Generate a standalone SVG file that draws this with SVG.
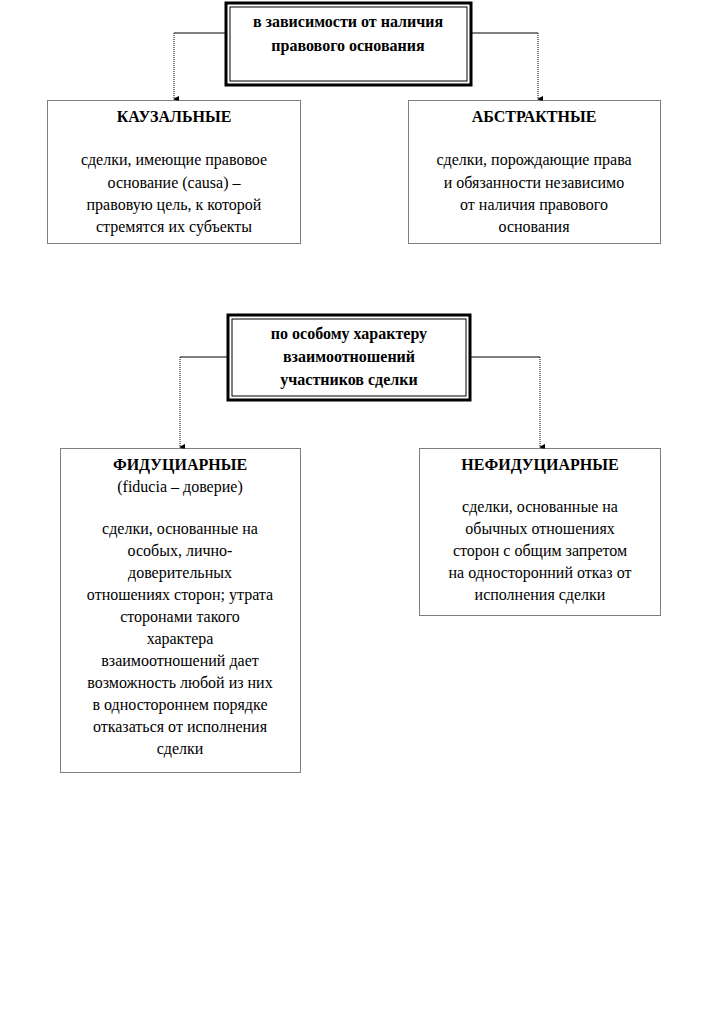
<svg xmlns="http://www.w3.org/2000/svg" width="708" height="1036" viewBox="0 0 708 1036">
<style>
text{font-family:"Liberation Serif","Times New Roman","DejaVu Serif",serif;font-size:16px;text-anchor:middle;fill:#000}
.b{font-weight:bold}
.box{fill:#fff;stroke:#000;stroke-width:1;stroke-dasharray:1 1}
.dbl{fill:#fff;stroke:#000;stroke-width:3}
.in{fill:none;stroke:#000;stroke-width:1}
.c{fill:none;stroke:#000;stroke-width:1}
.cd{fill:none;stroke:#000;stroke-width:1;stroke-dasharray:1 1}
</style>
<defs><marker id="a" markerWidth="8" markerHeight="8" refX="4" refY="7" orient="auto" markerUnits="userSpaceOnUse"><path d="M1,2 L7,2 L4,8 Z" fill="#000"/></marker></defs>
<rect width="708" height="1036" fill="#fff"/>
<g id="connectors">
<path class="c" d="M226,33 H174"/><path class="cd" d="M174,33 V99" marker-end="url(#a)"/>
<path class="c" d="M471,33 H538"/><path class="cd" d="M538,33 V99" marker-end="url(#a)"/>
<path class="c" d="M228,357 H180"/><path class="cd" d="M180,357 V447" marker-end="url(#a)"/>
<path class="c" d="M470,357 H540"/><path class="cd" d="M540,357 V447" marker-end="url(#a)"/>
</g>
<g id="n1"><rect class="dbl" x="226" y="3" width="245" height="82"/><rect class="in" x="230" y="7" width="237" height="74"/>
<text class="b" x="348" y="27">в зависимости от наличия</text><text class="b" x="348" y="51">правового основания</text></g>
<g id="n2"><rect class="box" x="47.5" y="100.5" width="253" height="143"/>
<text class="b" x="174" y="122">КАУЗАЛЬНЫЕ</text>
<text x="174" y="165">сделки, имеющие правовое</text><text x="174" y="188">основание (causa) –</text><text x="174" y="210">правовую цель, к которой</text><text x="174" y="232">стремятся их субъекты</text></g>
<g id="n3"><rect class="box" x="408.5" y="100.5" width="252" height="143"/>
<text class="b" x="534" y="122">АБСТРАКТНЫЕ</text>
<text x="534" y="165">сделки, порождающие права</text><text x="534" y="188">и обязанности независимо</text><text x="534" y="210">от наличия правового</text><text x="534" y="232">основания</text></g>
<g id="n4"><rect class="dbl" x="228" y="315" width="242" height="85"/><rect class="in" x="232" y="319" width="234" height="77"/>
<text class="b" x="349" y="339">по особому характеру</text><text class="b" x="349" y="362">взаимоотношений</text><text class="b" x="349" y="385">участников сделки</text></g>
<g id="n5"><rect class="box" x="60.5" y="448.5" width="240" height="324"/>
<text class="b" x="180" y="470">ФИДУЦИАРНЫЕ</text><text x="180" y="492">(fiducia – доверие)</text>
<text x="180" y="534">сделки, основанные на</text><text x="180" y="556">особых, лично-</text><text x="180" y="578">доверительных</text><text x="180" y="600">отношениях сторон; утрата</text><text x="180" y="622">сторонами такого</text><text x="180" y="644">характера</text><text x="180" y="666">взаимоотношений дает</text><text x="180" y="688">возможность любой из них</text><text x="180" y="710">в одностороннем порядке</text><text x="180" y="732">отказаться от исполнения</text><text x="180" y="754">сделки</text></g>
<g id="n6"><rect class="box" x="419.5" y="448.5" width="241" height="167"/>
<text class="b" x="540" y="470">НЕФИДУЦИАРНЫЕ</text>
<text x="540" y="512">сделки, основанные на</text><text x="540" y="534">обычных отношениях</text><text x="540" y="556">сторон с общим запретом</text><text x="540" y="578">на односторонний отказ от</text><text x="540" y="600">исполнения сделки</text></g>
</svg>
